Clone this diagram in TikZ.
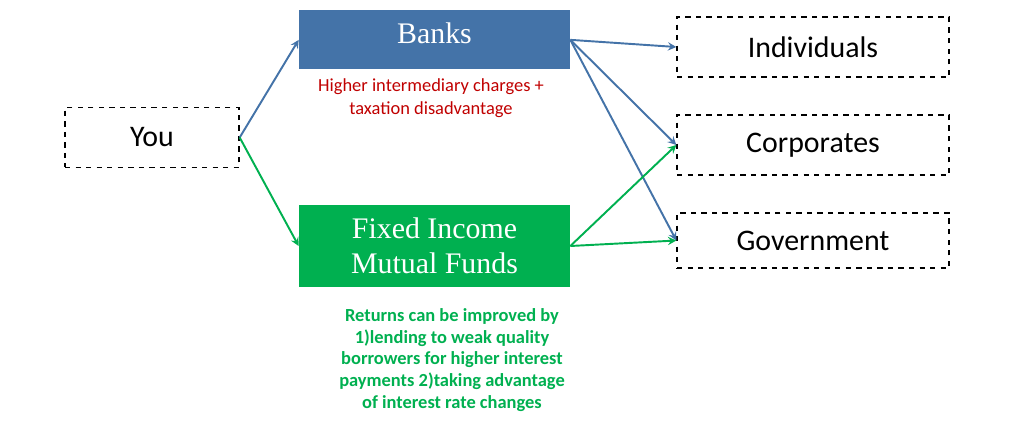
\documentclass[tikz,border=0pt]{standalone}
\usepackage{fontspec}
\setsansfont{Carlito}
\newfontfamily\boxserif{Liberation Serif}
\usepackage{xcolor}
\usetikzlibrary{positioning}
\definecolor{bankblue}{HTML}{4473A8}
\definecolor{fundgreen}{HTML}{00B050}
\definecolor{notered}{HTML}{C00000}

\begin{document}
\begin{tikzpicture}[x=0.02cm, y=-0.02cm,
    dashbox/.style={draw, dashed, thick, minimum width=5.44cm, minimum height=1.2cm,
        font=\sffamily\fontsize{17}{20}\selectfont},
    fundbox/.style={minimum width=5.42cm, text=white, font=\boxserif\fontsize{17}{20}\selectfont,
        align=center},
    flow/.style={->, line width=1.1pt, >=stealth}]
        % Frame
        \useasboundingbox (0,0) rectangle (1027,423);

        % Left box
        \node[dashbox, minimum width=3.48cm] (you) at (152,137.5) {You};

        % Middle boxes
        \node[fundbox, fill=bankblue, minimum height=1.18cm, anchor=north] (banks) at (434.5,10)
            {\raisebox{0.25cm}{Banks}};
        \node[fundbox, fill=fundgreen, minimum height=1.64cm] (funds) at (434.5,246)
            {Fixed Income\\Mutual Funds};

        % Right boxes
        \node[dashbox] (indiv) at (813,47) {Individuals};
        \node[dashbox] (corp) at (813,145) {Corporates};
        \node[dashbox, minimum height=1.1cm] (govt) at (813,240.5) {Government};

        % Notes
        \node[notered, align=center, font=\sffamily\fontsize{10.5}{13}\selectfont] (costnote) at (431,98)
            {Higher intermediary charges +\\taxation disadvantage};
        \node[fundgreen, align=center, font=\sffamily\bfseries\fontsize{10.5}{12.3}\selectfont] (retnote) at (452,360)
            {Returns can be improved by\\1)lending to weak quality\\borrowers for higher interest\\payments 2)taking advantage\\of interest rate changes};

        % Connectors
        \draw[flow, bankblue] (you.east) -- (banks.west);
        \draw[flow, fundgreen] (you.east) -- (funds.west);
        \draw[flow, bankblue] (banks.east) -- (indiv.west);
        \draw[flow, bankblue] (banks.east) -- (corp.west);
        \draw[flow, bankblue] (banks.east) -- (govt.west);
        \draw[flow, fundgreen] (funds.east) -- (corp.west);
        \draw[flow, fundgreen] (funds.east) -- (govt.west);
    \end{tikzpicture}
\end{document}
